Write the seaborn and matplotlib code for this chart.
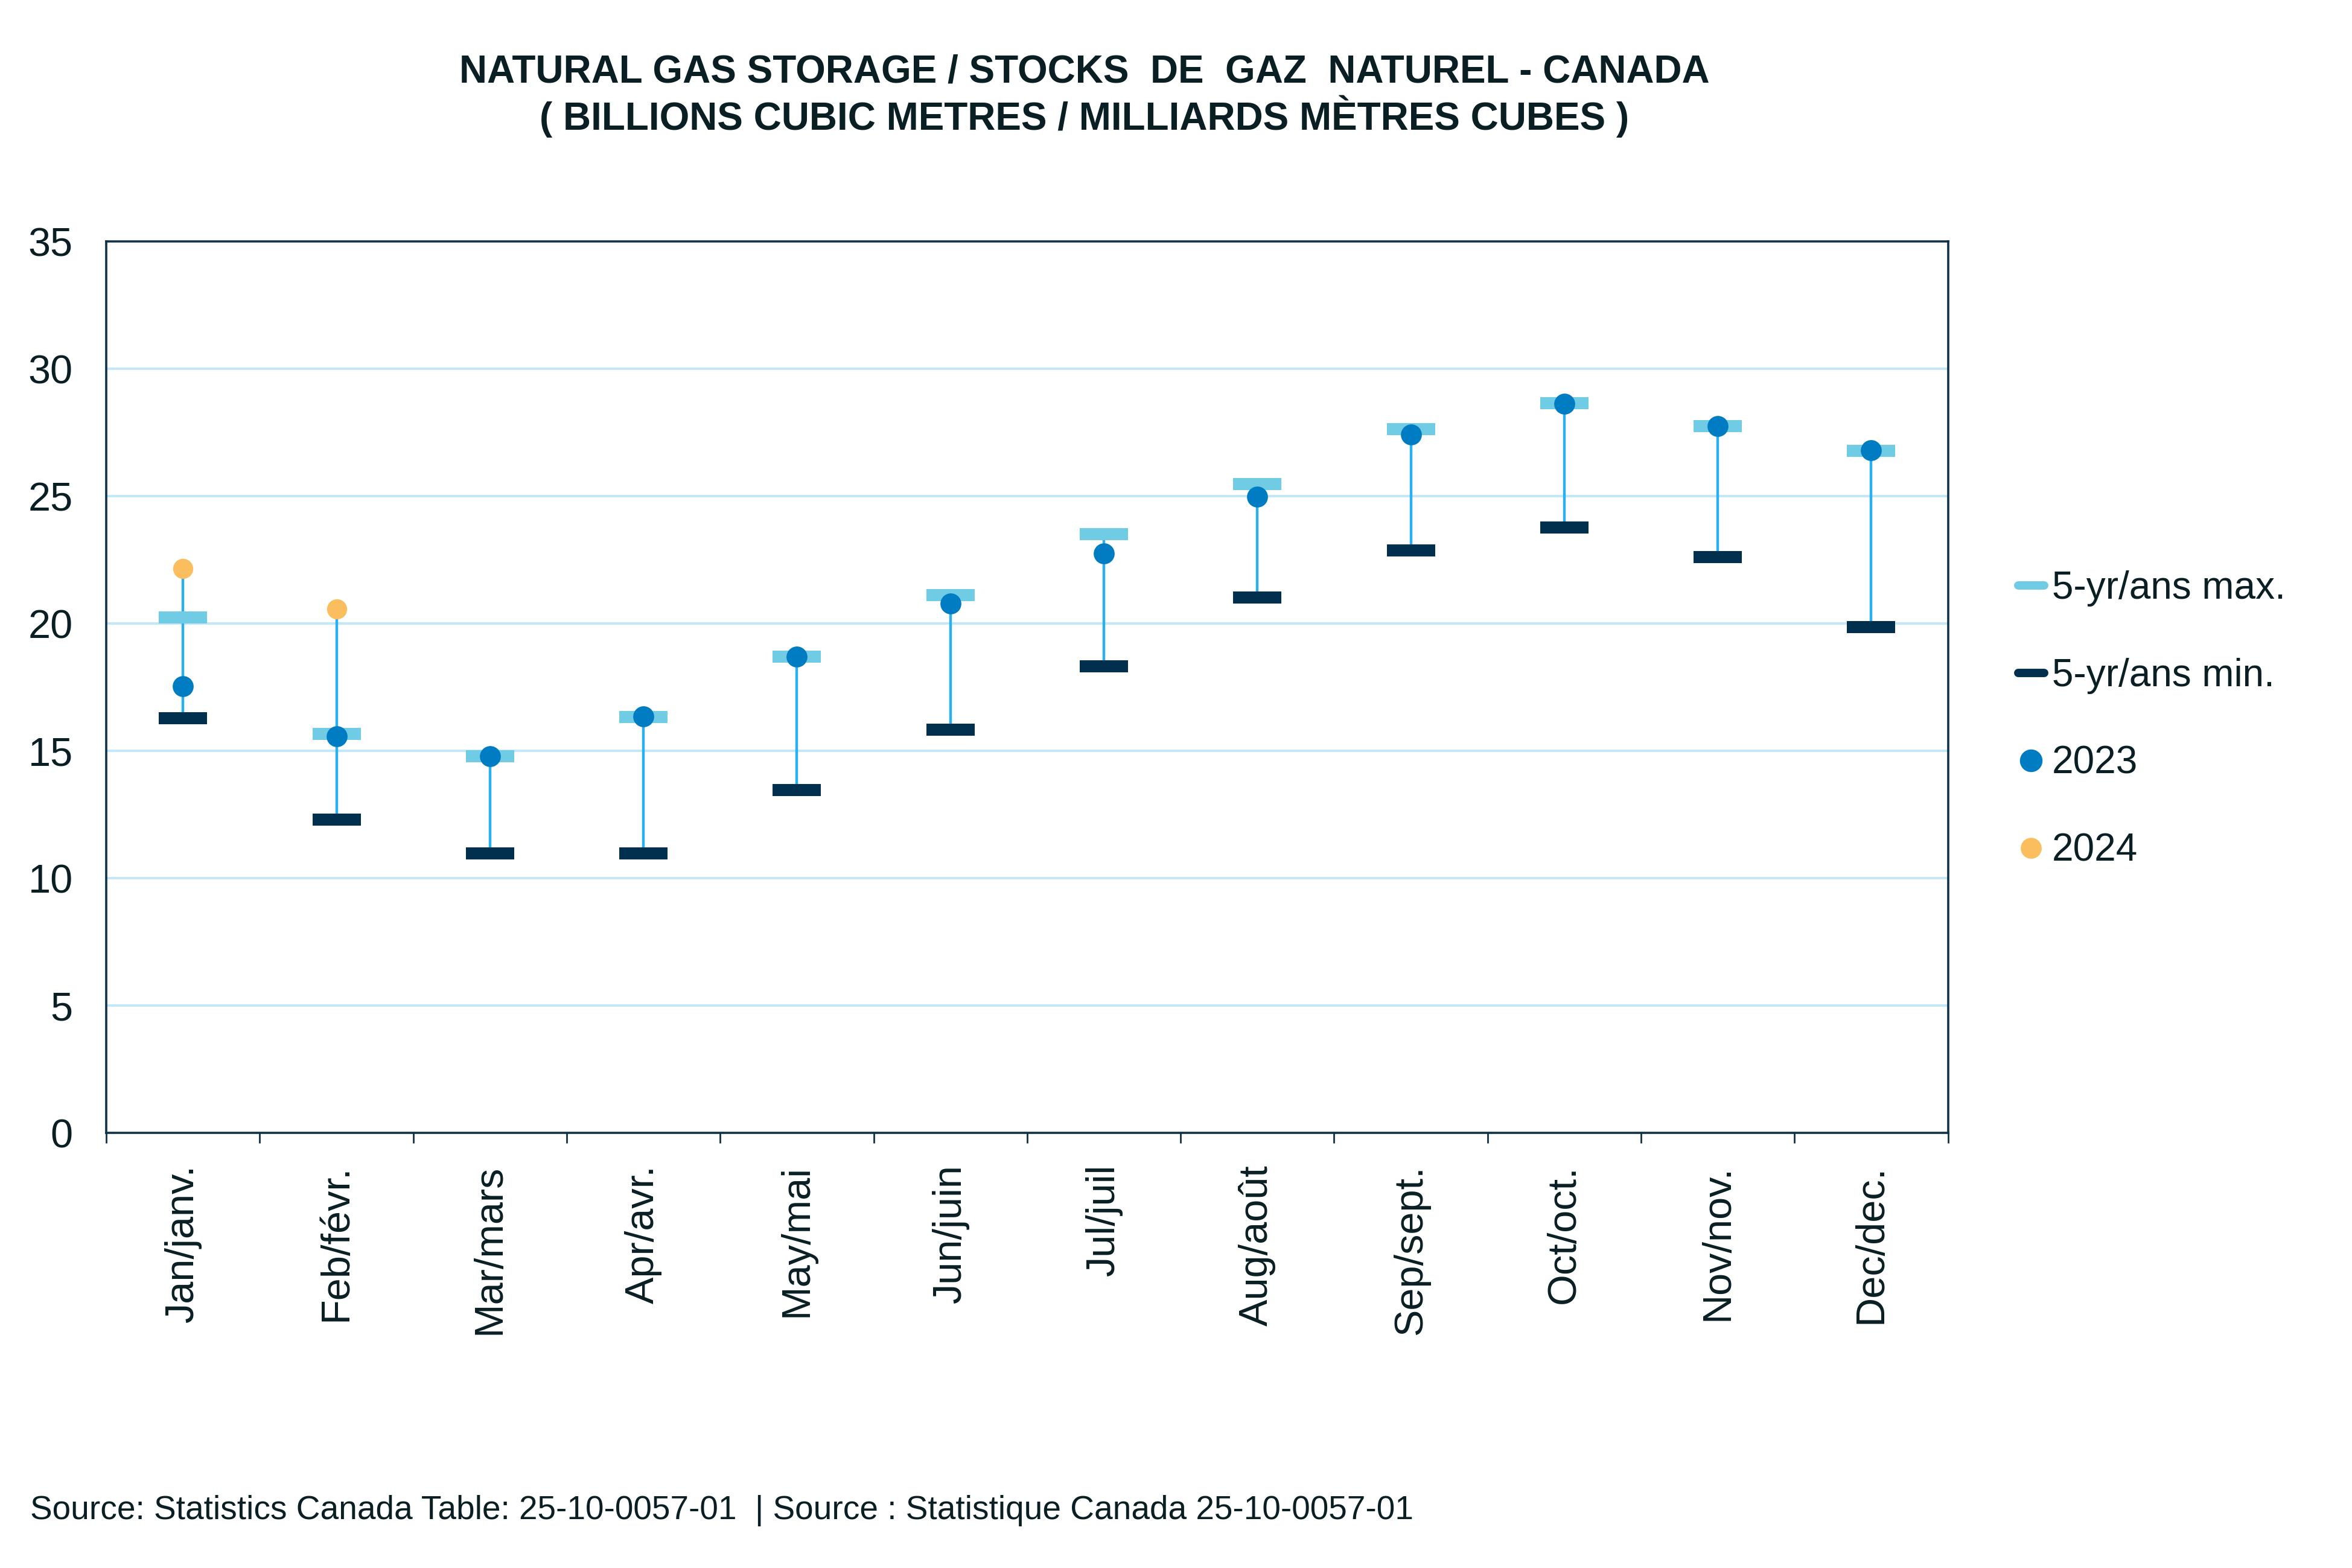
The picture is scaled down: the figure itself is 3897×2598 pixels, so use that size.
import numpy as np
import pandas as pd
import seaborn as sns
import matplotlib.pyplot as plt
from matplotlib.path import Path
from matplotlib.lines import Line2D

# Data (billions of cubic metres)
months = ['Jan/janv.', 'Feb/févr.', 'Mar/mars', 'Apr/avr.', 'May/mai', 'Jun/juin',
          'Jul/juil', 'Aug/août', 'Sep/sept.', 'Oct/oct.', 'Nov/nov.', 'Dec/dec.']
max_5yr = [20.25, 15.66, 14.78, 16.34, 18.70, 21.12, 23.51, 25.47, 27.63, 28.64, 27.75, 26.79]
min_5yr = [16.27, 12.31, 10.98, 10.98, 13.45, 15.84, 18.31, 21.03, 22.88, 23.77, 22.60, 19.85]
y2023 = [17.54, 15.57, 14.79, 16.36, 18.70, 20.78, 22.76, 24.97, 27.43, 28.63, 27.76, 26.80]
y2024 = [22.15, 20.58, np.nan, np.nan, np.nan, np.nan, np.nan, np.nan, np.nan, np.nan, np.nan, np.nan]

df = pd.DataFrame({'month': months, 'max': max_5yr, 'min': min_5yr,
                   '2023': y2023, '2024': y2024})

c_max = '#70CBE4'
c_min = '#00304D'
c_2023 = '#007CC3'
c_2024 = '#FBBE5E'
c_line = '#29B0F0'
c_grid = '#C2E7F8'
c_spine = '#0E3247'
c_text = '#0A1F24'

sns.set_theme(style='white')
plt.rcParams['font.family'] = ['Liberation Sans', 'DejaVu Sans']
plt.rcParams['text.color'] = c_text

fig = plt.figure(figsize=(19.49, 12.99), dpi=200)
ax = fig.add_axes([0.0452, 0.2775, 0.7828, 0.5685])

# high-low line across all series
x = np.arange(len(months))
highs = df[['max', 'min', '2023', '2024']].max(axis=1)
lows = df[['max', 'min', '2023', '2024']].min(axis=1)
ax.vlines(x, lows, highs, color=c_line, lw=1.6, zorder=2)

# flat rectangle marker for the 5-yr max/min
bar = Path([(-1, -0.26), (1, -0.26), (1, 0.26), (-1, 0.26), (-1, -0.26)],
           [Path.MOVETO, Path.LINETO, Path.LINETO, Path.LINETO, Path.CLOSEPOLY])

sns.scatterplot(data=df, x='month', y='max', marker=bar, s=29 ** 2, color=c_max,
                linewidth=0, ax=ax, zorder=3)
sns.scatterplot(data=df, x='month', y='min', marker=bar, s=29 ** 2, color=c_min,
                linewidth=0, ax=ax, zorder=3)
sns.scatterplot(data=df, x='month', y='2023', marker='o', s=12.5 ** 2, color=c_2023,
                linewidth=0, ax=ax, zorder=4)
sns.scatterplot(data=df.dropna(subset=['2024']), x='month', y='2024', marker='o',
                s=12 ** 2, color=c_2024, linewidth=0, ax=ax, zorder=4)

ax.set_xlim(-0.5, len(months) - 0.5)
ax.set_ylim(0, 35)
ax.set_yticks(range(0, 36, 5))
ax.set_xticks(x)
ax.set_xticklabels(months, rotation=90)
ax.set_xticks(np.arange(-0.5, len(months), 1), minor=True)
ax.tick_params(axis='x', which='major', length=0, pad=19, labelsize=24, labelcolor=c_text)
ax.tick_params(axis='x', which='minor', length=6, width=1, color=c_spine, direction='out', bottom=True)
ax.tick_params(axis='y', length=0, pad=20, labelsize=24, labelcolor=c_text)
ax.set_xlabel('')
ax.set_ylabel('')

for y in range(5, 35, 5):
    ax.axhline(y, color=c_grid, lw=1.4, zorder=1)
for s in ax.spines.values():
    s.set_color(c_spine)
    s.set_linewidth(1.3)

# legend
handles = [
    Line2D([0], [0], color=c_max, lw=5, solid_capstyle='round'),
    Line2D([0], [0], color=c_min, lw=5, solid_capstyle='round'),
    Line2D([0], [0], color=c_2023, marker='o', ms=12.5, lw=0),
    Line2D([0], [0], color=c_2024, marker='o', ms=11.5, lw=0),
]
fig.legend(handles, ['5-yr/ans max.', '5-yr/ans min.', '2023', '2024'],
           loc='center left', bbox_to_anchor=(0.843, 0.541), frameon=False,
           fontsize=23, handlelength=0.68, handletextpad=0.2, labelspacing=1.33)

fig.text(0.461, 0.954, 'NATURAL GAS STORAGE / STOCKS  DE  GAZ  NATUREL - CANADA',
         ha='center', va='center', fontsize=23, fontweight='bold')
fig.text(0.461, 0.926, '( BILLIONS CUBIC METRES / MILLIARDS MÈTRES CUBES )',
         ha='center', va='center', fontsize=23, fontweight='bold')
fig.text(0.0128, 0.0364,
         'Source: Statistics Canada Table: 25-10-0057-01  | Source : Statistique Canada 25-10-0057-01',
         ha='left', va='center', fontsize=19.8)

fig.savefig('out.png', dpi=200)
